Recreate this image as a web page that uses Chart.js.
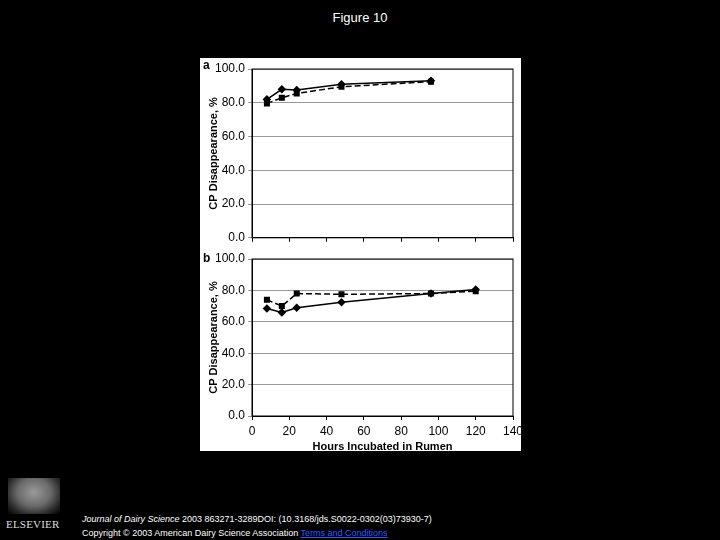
<!DOCTYPE html>
<html>
<head>
<meta charset="utf-8">
<script src="https://cdn.jsdelivr.net/npm/chart.js@4/dist/chart.umd.min.js"></script>
<style>
  body { margin: 0; background: #000; width: 720px; height: 540px; position: relative; overflow: hidden; font-family: "Liberation Sans", Arial, sans-serif; }
  #title { position: absolute; top: 10px; left: 0; width: 720px; text-align: center; color: #fff; font-size: 13px; }
  #panel { position: absolute; left: 200px; top: 58px; width: 321px; height: 393px; background: #fff; }
  .wrap { position: absolute; left: 0; width: 321px; }
  .tag { position: absolute; left: 3px; font-size: 12px; font-weight: bold; color: #000; }
  #logo { position: absolute; left: 8px; top: 478px; width: 52px; height: 36px;
          background: radial-gradient(ellipse at 50% 40%, #9a9a9a 0%, #6a6a6a 45%, #2a2a2a 75%, #000 100%); }
  #logotxt { position: absolute; left: 6px; top: 518px; color: #ddd; font-family: "Liberation Serif", serif; font-size: 11px; letter-spacing: 0.2px; }
  #cite { position: absolute; left: 82px; top: 512px; color: #fff; font-size: 9px; line-height: 14px; }
  #cite a { color: #3355ff; text-decoration: underline; }
</style>
</head>
<body>
<div id="title">Figure 10</div>
<div id="panel">
  <div class="wrap" style="top:0;height:190px"><canvas id="chartA" width="321" height="190"></canvas></div>
  <div class="wrap" style="top:190px;height:203px"><canvas id="chartB" width="321" height="203"></canvas></div>
  <div class="tag" style="top:0px">a</div>
  <div class="tag" style="top:193px">b</div>
</div>
<div id="logo"></div>
<div id="logotxt">ELSEVIER</div>
<div id="cite">
  <i>Journal of Dairy Science</i> 2003 863271-3289DOI: (10.3168/jds.S0022-0302(03)73930-7)<br>
  Copyright © 2003 American Dairy Science Association <a>Terms and Conditions</a>
</div>
<script>
// --- Datos ---
const xTicks = [0, 20, 40, 60, 80, 100, 120, 140];
const yTicks = [0, 20, 40, 60, 80, 100];

const hoursA = [8, 16, 24, 48, 96];
const solidA = [82, 88, 87.5, 91, 93];
const dashedA = [79.5, 83, 85.5, 89.5, 92.5];

const hoursB = [8, 16, 24, 48, 96, 120];
const solidB = [68.5, 66, 69, 72.5, 78, 80.5];
const dashedB = [74, 70, 78, 77.5, 78, 79.5];

const toPts = (xs, ys) => xs.map((x, i) => ({ x: x, y: ys[i] }));

// marco negro alrededor del área de la gráfica
const framePlugin = {
    id: 'frame',
    afterDraw(chart) {
        const a = chart.chartArea, ctx = chart.ctx;
        ctx.save();
        ctx.strokeStyle = '#000';
        ctx.lineWidth = 1;
        ctx.strokeRect(a.left, a.top, a.right - a.left, a.bottom - a.top);
        ctx.restore();
    }
};

function makeChart(id, xs, solid, dashed, showXLabels, xHeight) {
    const font = { family: '"Liberation Sans", Arial, sans-serif', size: 12 };
    return new Chart(document.getElementById(id), {
        type: 'line',
        data: {
            datasets: [
                {
                    data: toPts(xs, solid),
                    borderColor: '#000', backgroundColor: '#000', borderWidth: 1.5,
                    pointStyle: 'rectRot', pointRadius: 3.2, tension: 0
                },
                {
                    data: toPts(xs, dashed),
                    borderColor: '#000', backgroundColor: '#000', borderWidth: 1.5,
                    borderDash: [6, 3],
                    pointStyle: 'rect', pointRadius: 3.2, tension: 0
                }
            ]
        },
        options: {
            responsive: false,
            animation: false,
            layout: { padding: { top: 11, right: 8, left: 7, bottom: 0 } },
            plugins: { legend: { display: false }, tooltip: { enabled: false } },
            scales: {
                x: {
                    type: 'linear', min: 0, max: 140,
                    afterBuildTicks: s => { s.ticks = xTicks.map(v => ({ value: v })); },
                    afterFit: s => { s.height = xHeight; s.paddingLeft = 0; s.paddingRight = 0; },
                    grid: { drawOnChartArea: false, drawTicks: true, tickLength: 4, color: '#000' },
                    border: { color: '#000' },
                    ticks: { display: showXLabels, color: '#000', font: font, padding: 4, maxRotation: 0 },
                    title: {
                        display: showXLabels, text: 'Hours Incubated in Rumen', color: '#000',
                        font: { family: font.family, size: 11, weight: 'bold' }, padding: { top: 5, bottom: -3 }
                    }
                },
                y: {
                    min: 0, max: 100,
                    afterBuildTicks: s => { s.ticks = yTicks.map(v => ({ value: v })); },
                    afterFit: s => { s.width = 45; },
                    grid: { color: '#999', tickLength: 4 },
                    border: { color: '#000' },
                    ticks: { color: '#000', font: font, padding: 3, callback: v => v.toFixed(1) },
                    title: {
                        display: true, text: 'CP Disappearance, %', color: '#000',
                        font: { family: font.family, size: 11, weight: 'bold' }, padding: { top: 0, bottom: 2 }
                    }
                }
            }
        },
        plugins: [framePlugin]
    });
}

makeChart('chartA', hoursA, solidA, dashedA, false, 10);
makeChart('chartB', hoursB, solidB, dashedB, true, 35);
</script>
</body>
</html>
